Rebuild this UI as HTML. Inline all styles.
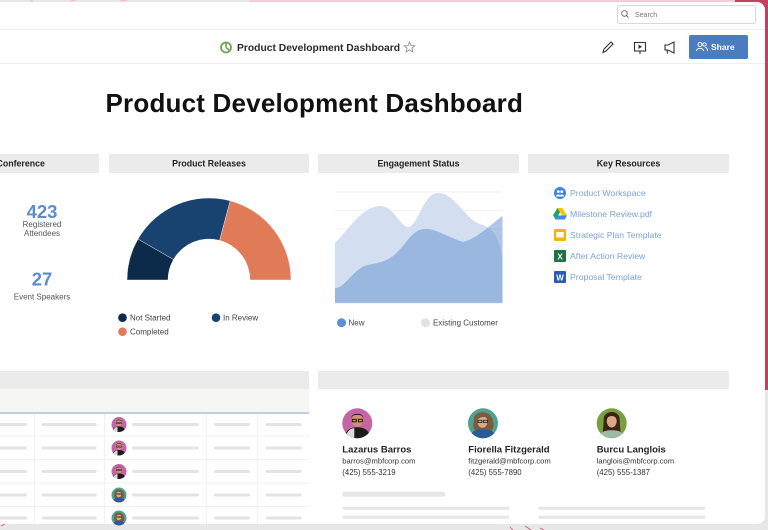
<!DOCTYPE html>
<html><head><meta charset="utf-8"><style>
html,body{margin:0;padding:0;background:#fff;}
body{width:768px;height:530px;overflow:hidden;}
svg{display:block;}
text{font-family:"Liberation Sans",sans-serif;}
</style></head><body>
<svg width="768" height="530" viewBox="0 0 768 530" xmlns="http://www.w3.org/2000/svg">
<defs>
<clipPath id="cA"><circle cx="0" cy="0" r="15"/></clipPath>
<g id="avL">
 <circle r="15" fill="#c565a6"/>
 <g clip-path="url(#cA)">
  <path d="M-14,16 C-12,6 -6,4 0,4 C6,4 12,6 14,16 Z" fill="#1c1c1c"/>
  <path d="M-12,16 C-11,8 -7,5 -3,5 L-3,16 Z" fill="#ddd"/>
  <ellipse cx="0" cy="-3" rx="5.5" ry="6.5" fill="#c99473"/>
  <path d="M-6,-5 C-6,-11 6,-11 6,-5 L5,-7 C3,-9 -3,-9 -5,-7 Z" fill="#151515"/>
  <rect x="-5" y="-4" width="4" height="2.5" fill="none" stroke="#111" stroke-width="0.9"/>
  <rect x="1" y="-4" width="4" height="2.5" fill="none" stroke="#111" stroke-width="0.9"/>
 </g>
</g>
<g id="avF">
 <circle r="15" fill="#4fa292"/>
 <g clip-path="url(#cA)">
  <path d="M-9,-2 C-11,-14 9,-14 10,-2 C12,6 8,10 4,8 L-4,8 C-9,8 -11,4 -9,-2 Z" fill="#7d5b3e"/>
  <path d="M-14,16 C-12,7 -6,6 0,6 C6,6 12,7 14,16 Z" fill="#2b5a9a"/>
  <ellipse cx="-0.5" cy="-1.5" rx="5" ry="6" fill="#d8ab88"/>
  <path d="M-5,-4 C-5,-10 5,-10 6,-4 C3,-7 -2,-7 -5,-4 Z" fill="#7d5b3e"/>
  <rect x="-5" y="-3" width="4" height="2.3" fill="none" stroke="#222" stroke-width="0.8"/>
  <rect x="0.5" y="-3" width="4" height="2.3" fill="none" stroke="#222" stroke-width="0.8"/>
 </g>
</g>
<g id="avB">
 <circle r="15" fill="#79a03f"/>
 <g clip-path="url(#cA)">
  <path d="M-8,-3 C-9,-14 9,-14 8,-3 L9,12 L-9,12 Z" fill="#3a2518"/>
  <path d="M-14,16 C-12,8 -6,7 0,7 C6,7 12,8 14,16 Z" fill="#9fb8a8"/>
  <ellipse cx="0" cy="-2" rx="5" ry="6.2" fill="#d9a887"/>
  <path d="M-5,-5 C-4,-10 5,-10 5,-5 C2,-8 -2,-8 -5,-5 Z" fill="#3a2518"/>
 </g>
</g>
<g id="tL"><g transform="scale(0.5)"><use href="#avL"/></g></g>
<g id="tF"><g transform="scale(0.5)"><use href="#avF"/></g></g>
</defs>

<!-- backdrop -->
<rect x="0" y="0" width="768" height="530" fill="#e7e7e7"/>
<rect x="250" y="0" width="518" height="3" fill="#f1cdd4"/>
<rect x="735" y="0" width="33" height="390" fill="#c4405c"/>
<path d="M-10,2 H757 A8,8 0 0 1 765,10 V516 A8,8 0 0 1 757,524 H-10 Z" fill="#ffffff"/>
<path d="M30,1 l3,-1 M70,1 l6,-1 M120,1 l8,-1" stroke="#f0b8c4" stroke-width="1"/>
<path d="M510,527 l3,3 M525,526 l6,4 M540,528 l4,2 M1,526 l4,-2" stroke="#d05070" stroke-width="0.8"/>

<!-- top bar -->
<rect x="617.5" y="5.5" width="138" height="18" rx="2" fill="#fff" stroke="#d8d8d8"/>
<circle cx="624.5" cy="13.5" r="2.8" fill="none" stroke="#666" stroke-width="0.9"/>
<line x1="626.5" y1="15.5" x2="628.5" y2="17.5" stroke="#666" stroke-width="0.9"/>
<text x="635" y="17" font-size="7" fill="#777">Search</text>
<line x1="0" y1="29.5" x2="765" y2="29.5" stroke="#efefef"/>
<line x1="0" y1="63.5" x2="765" y2="63.5" stroke="#efefef"/>

<!-- toolbar -->
<circle cx="226" cy="47.5" r="5" fill="none" stroke="#6aa84f" stroke-width="1.8"/>
<path d="M226,47.5 V43.5 M226,47.5 L229,50" stroke="#6aa84f" stroke-width="1.6" fill="none"/>
<text x="237" y="51" font-size="10.3" font-weight="bold" fill="#2b2b2b">Product Development Dashboard</text>
<path d="M409.5,42 L411,45.6 L414.8,45.8 L411.9,48.2 L412.9,52 L409.5,49.9 L406.1,52 L407.1,48.2 L404.2,45.8 L408,45.6 Z" fill="none" stroke="#888" stroke-width="0.8"/>
<path d="M603,52.5 L604,49 L611,42 L613,44 L606,51 Z" fill="none" stroke="#333" stroke-width="1.1"/>
<rect x="634.5" y="42.5" width="11" height="8.5" fill="none" stroke="#333" stroke-width="1.1"/>
<path d="M638.5,44.5 L642,46.7 L638.5,49 Z" fill="#333"/>
<line x1="640" y1="51" x2="640" y2="54" stroke="#333" stroke-width="1.1"/>
<path d="M665,45 H668 L674,42 V53 L668,50 H665 Z" fill="none" stroke="#333" stroke-width="1.1"/>
<line x1="667" y1="50" x2="667.5" y2="53.5" stroke="#333" stroke-width="1.1"/>
<rect x="689" y="35" width="59" height="24" rx="2" fill="#4a7cc0"/>
<circle cx="700" cy="44.5" r="2" fill="none" stroke="#fff" stroke-width="1"/>
<path d="M696.5,51 C696.5,47.5 703.5,47.5 703.5,51" fill="none" stroke="#fff" stroke-width="1"/>
<circle cx="704.5" cy="44.5" r="1.7" fill="none" stroke="#fff" stroke-width="0.9"/>
<path d="M705,47.3 C707,47.5 707.5,49 707.5,51" fill="none" stroke="#fff" stroke-width="0.9"/>
<text x="711" y="50" font-size="8.5" font-weight="bold" fill="#fff">Share</text>

<!-- big title -->
<text x="105.5" y="112" font-size="26" font-weight="bold" fill="#111" letter-spacing="0.2">Product Development Dashboard</text>

<!-- panel headers -->
<rect x="-10" y="154" width="109" height="19" fill="#ebebeb"/>
<text x="-3.5" y="166.5" font-size="8.8" font-weight="bold" fill="#222">Conference</text>
<rect x="109" y="154" width="200" height="19" fill="#ebebeb"/>
<text x="209" y="166.5" font-size="8.8" font-weight="bold" fill="#222" text-anchor="middle">Product Releases</text>
<rect x="318" y="154" width="201" height="19" fill="#ebebeb"/>
<text x="418.5" y="166.5" font-size="8.8" font-weight="bold" fill="#222" text-anchor="middle">Engagement Status</text>
<rect x="528" y="154" width="201" height="19" fill="#ebebeb"/>
<text x="628.5" y="166.5" font-size="8.8" font-weight="bold" fill="#222" text-anchor="middle">Key Resources</text>

<!-- conference stats -->
<text x="42" y="218" font-size="18.5" font-weight="bold" fill="#5b8dd0" text-anchor="middle">423</text>
<text x="42" y="227" font-size="8" fill="#555" text-anchor="middle">Registered</text>
<text x="42" y="236" font-size="8" fill="#555" text-anchor="middle">Attendees</text>
<text x="42" y="285.5" font-size="18.5" font-weight="bold" fill="#5b8dd0" text-anchor="middle">27</text>
<text x="42" y="299.5" font-size="8" fill="#555" text-anchor="middle">Event Speakers</text>

<!-- donut -->
<path d="M127,280 A82,82 0 0 1 137.99,239 L173.49,259.5 A41,41 0 0 0 168,280 Z" fill="#0c2a49" stroke="#fff" stroke-width="0.4"/>
<path d="M137.99,239 A82,82 0 0 1 230.22,200.8 L219.61,240.4 A41,41 0 0 0 173.49,259.5 Z" fill="#18426f" stroke="#fff" stroke-width="0.4"/>
<path d="M230.22,200.8 A82,82 0 0 1 291,280 L250,280 A41,41 0 0 0 219.61,240.4 Z" fill="#e07a57" stroke="#fff" stroke-width="0.4"/>
<circle cx="122.5" cy="317.7" r="4.3" fill="#0c2a49"/>
<text x="130" y="320.6" font-size="8" fill="#444">Not Started</text>
<circle cx="216" cy="317.7" r="4.3" fill="#18426f"/>
<text x="223" y="320.6" font-size="8" fill="#444">In Review</text>
<circle cx="122.5" cy="331.7" r="4.3" fill="#e07a57"/>
<text x="130" y="334.6" font-size="8" fill="#444">Completed</text>

<!-- area chart -->
<g stroke="#eeeeee" stroke-width="0.8">
<line x1="335" y1="192" x2="502" y2="192"/>
<line x1="335" y1="210.5" x2="502" y2="210.5"/>
<line x1="335" y1="229" x2="502" y2="229"/>
</g>
<path d="M335,243 C348,230 362,207 379,206 C394,205 400,227 408,227 C418,227 423,193 438,193 C455,193 466,220 480,224 C494,228 499,238 502.5,258 L502.5,303 L335,303 Z" fill="#d3dff0"/>
<path d="M335,288 C345,289 353,268 368,265 C378,263 383,262 390,258 C404,250 410,230 424,229 C435,228 447,237 463,242 C478,238 490,225 502.5,216 L502.5,303 L335,303 Z" fill="rgb(108,150,212)" fill-opacity="0.55"/>
<line x1="335" y1="303.2" x2="502.5" y2="303.2" stroke="#e4e9f2" stroke-width="0.6"/>
<circle cx="341.5" cy="322.7" r="4.5" fill="#5d8fd5"/>
<text x="348.5" y="325.6" font-size="8" fill="#444">New</text>
<circle cx="425.5" cy="322.7" r="4.5" fill="#e2e2e2"/>
<text x="433" y="325.6" font-size="8" fill="#444">Existing Customer</text>

<!-- key resources -->
<circle cx="560" cy="193" r="6" fill="#3d85e0"/>
<circle cx="558.3" cy="191.6" r="1.4" fill="#fff"/>
<circle cx="561.8" cy="191.6" r="1.4" fill="#fff"/>
<path d="M556,196.5 C556,193.8 560.5,193.8 560.5,196.5 Z M559.5,196.5 C559.5,193.8 564,193.8 564,196.5 Z" fill="#fff"/>
<text x="570" y="196.2" font-size="8.7" fill="#7ba3d8">Product Workspace</text>

<polygon points="557.5,208 562.5,208 558,215.8 555.5,219.5 553,215.2" fill="#1fa463"/>
<polygon points="557.5,208 562.5,208 567,215.5 562,215.5" fill="#ffc107"/>
<polygon points="558,215.5 567,215.5 564.8,219.5 555.5,219.5" fill="#4285f4"/>
<text x="570" y="217.2" font-size="8.7" fill="#7ba3d8">Milestone Review.pdf</text>

<rect x="554" y="229" width="12" height="12" rx="1.2" fill="#f5b400"/>
<rect x="556.3" y="232" width="7.4" height="5.5" fill="#fff"/>
<text x="570" y="238.2" font-size="8.7" fill="#7ba3d8">Strategic Plan Template</text>

<rect x="554" y="250" width="12" height="12" rx="1" fill="#1f7244"/>
<text x="560" y="259.5" font-size="8" font-weight="bold" fill="#fff" text-anchor="middle">X</text>
<text x="570" y="259.2" font-size="8.7" fill="#7ba3d8">After Action Review</text>

<rect x="554" y="271" width="12" height="12" rx="1" fill="#2b5bb5"/>
<text x="560" y="280.5" font-size="8" font-weight="bold" fill="#fff" text-anchor="middle">W</text>
<text x="570" y="280.2" font-size="8.7" fill="#7ba3d8">Proposal Template</text>

<!-- bottom left table panel -->
<rect x="-10" y="371" width="319" height="18" fill="#ebebeb"/>
<rect x="-10" y="389" width="319" height="24" fill="#f6f6f4"/>
<line x1="0" y1="413" x2="309" y2="413" stroke="#8fa1c6" stroke-width="1"/>
<g stroke="#ececec" stroke-width="0.8">
<line x1="34.3" y1="413.5" x2="34.3" y2="524"/>
<line x1="104.3" y1="413.5" x2="104.3" y2="524"/>
<line x1="206.7" y1="413.5" x2="206.7" y2="524"/>
<line x1="257.3" y1="413.5" x2="257.3" y2="524"/>
<line x1="0" y1="436" x2="309" y2="436"/>
<line x1="0" y1="459.5" x2="309" y2="459.5"/>
<line x1="0" y1="483" x2="309" y2="483"/>
<line x1="0" y1="506.5" x2="309" y2="506.5"/>
</g>
<g fill="#e3e3e3">
<rect x="-2" y="423" width="29" height="3" rx="1.5"/><rect x="41.7" y="423" width="55" height="3" rx="1.5"/><rect x="132" y="423" width="67" height="3" rx="1.5"/><rect x="214" y="423" width="36" height="3" rx="1.5"/><rect x="265.7" y="423" width="36" height="3" rx="1.5"/>
<rect x="-2" y="446.5" width="29" height="3" rx="1.5"/><rect x="41.7" y="446.5" width="55" height="3" rx="1.5"/><rect x="132" y="446.5" width="67" height="3" rx="1.5"/><rect x="214" y="446.5" width="36" height="3" rx="1.5"/><rect x="265.7" y="446.5" width="36" height="3" rx="1.5"/>
<rect x="-2" y="470" width="29" height="3" rx="1.5"/><rect x="41.7" y="470" width="55" height="3" rx="1.5"/><rect x="132" y="470" width="67" height="3" rx="1.5"/><rect x="214" y="470" width="36" height="3" rx="1.5"/><rect x="265.7" y="470" width="36" height="3" rx="1.5"/>
<rect x="-2" y="493.5" width="29" height="3" rx="1.5"/><rect x="41.7" y="493.5" width="55" height="3" rx="1.5"/><rect x="132" y="493.5" width="67" height="3" rx="1.5"/><rect x="214" y="493.5" width="36" height="3" rx="1.5"/><rect x="265.7" y="493.5" width="36" height="3" rx="1.5"/>
<rect x="-2" y="516.5" width="29" height="3" rx="1.5"/><rect x="41.7" y="516.5" width="55" height="3" rx="1.5"/><rect x="132" y="516.5" width="67" height="3" rx="1.5"/><rect x="214" y="516.5" width="36" height="3" rx="1.5"/><rect x="265.7" y="516.5" width="36" height="3" rx="1.5"/>
</g>
<use href="#tL" transform="translate(119,424.5)"/>
<use href="#tL" transform="translate(119,448)"/>
<use href="#tL" transform="translate(119,471.5)"/>
<use href="#tF" transform="translate(119,495)"/>
<use href="#tF" transform="translate(119,518)"/>

<!-- bottom right people panel -->
<rect x="318" y="371" width="411" height="18" fill="#ebebeb"/>
<use href="#avL" transform="translate(357.3,423.3)"/>
<use href="#avF" transform="translate(483,423.3)"/>
<use href="#avB" transform="translate(611.7,423.3)"/>
<text x="342.3" y="452.5" font-size="9.5" font-weight="bold" fill="#222">Lazarus Barros</text>
<text x="342.3" y="463.5" font-size="7.6" fill="#333">barros@mbfcorp.com</text>
<text x="342.3" y="475" font-size="7.8" fill="#333">(425) 555-3219</text>
<text x="468.3" y="452.5" font-size="9.5" font-weight="bold" fill="#222">Fiorella Fitzgerald</text>
<text x="468.3" y="463.5" font-size="7.6" fill="#333">fitzgerald@mbfcorp.com</text>
<text x="468.3" y="475" font-size="7.8" fill="#333">(425) 555-7890</text>
<text x="596.7" y="452.5" font-size="9.5" font-weight="bold" fill="#222">Burcu Langlois</text>
<text x="596.7" y="463.5" font-size="7.6" fill="#333">langlois@mbfcorp.com</text>
<text x="596.7" y="475" font-size="7.8" fill="#333">(425) 555-1387</text>
<g fill="#e6e6e6">
<rect x="342.3" y="491.8" width="103" height="5" rx="2.5"/>
<rect x="342.3" y="506.8" width="167" height="3" rx="1.5"/>
<rect x="342.3" y="515.8" width="167" height="3" rx="1.5"/>
<rect x="538.3" y="506.8" width="167" height="3" rx="1.5"/>
<rect x="538.3" y="515.8" width="167" height="3" rx="1.5"/>
</g>
</svg>
</body></html>
